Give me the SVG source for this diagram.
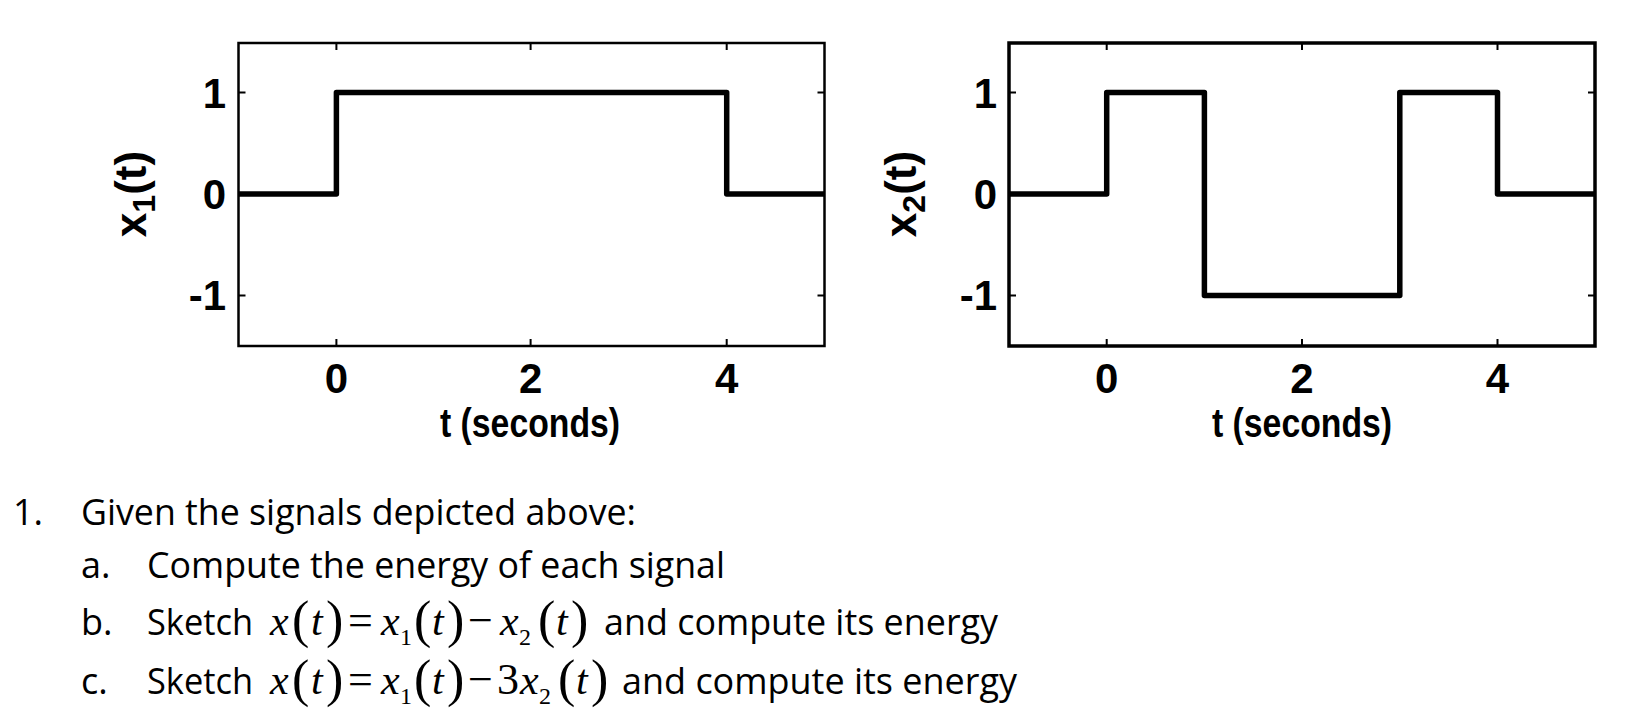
<svg xmlns="http://www.w3.org/2000/svg" width="1643" height="724" viewBox="0 0 1643 724">
<style>
.box{fill:none;stroke:#000;stroke-width:2.5}
.tick{stroke:#000;stroke-width:2}
.sig{fill:none;stroke:#000;stroke-width:5.5;stroke-linejoin:round}
.tl{font-family:"Liberation Sans",Arial,sans-serif;font-size:42px;font-weight:bold;fill:#000}
.ax{font-family:"Liberation Sans",Arial,sans-serif;font-size:40px;font-weight:bold;fill:#000}
.yl{font-family:"Liberation Sans",Arial,sans-serif;font-size:44px;font-weight:bold;fill:#000}
.tx{font-family:"Open Sans","Liberation Sans",sans-serif;font-size:36px;fill:#000}
.m{font-family:"Liberation Serif","Times New Roman",serif;font-size:42px;font-style:italic;fill:#000}
.mn{font-family:"Liberation Serif","Times New Roman",serif;font-size:44px;fill:#000}
.p{font-family:"Liberation Serif","Times New Roman",serif;font-size:52px;fill:#000}
.s{font-family:"Liberation Serif","Times New Roman",serif;font-size:24px;fill:#000}
</style>
<g id="plot1">
<rect class="box" x="238.5" y="43" width="586" height="303"/>
<path class="tick" d="M336.4 43v7M530.6 43v7M726.7 43v7M336.4 346v-7M530.6 346v-7M726.7 346v-7M238.5 92.5h7M238.5 194h7M238.5 295.5h7M824.5 92.5h-7M824.5 194h-7M824.5 295.5h-7"/>
<path class="sig" d="M238.5 194H336.4V92.5H726.7V194H824.5"/>
<g class="tl" text-anchor="end"><text x="226" y="108">1</text><text x="226" y="209">0</text><text x="226" y="310">-1</text></g>
<g class="tl" text-anchor="middle"><text x="336.4" y="393">0</text><text x="530.6" y="393">2</text><text x="726.7" y="393">4</text></g>
<text class="ax" x="530" y="437" text-anchor="middle" textLength="180" lengthAdjust="spacingAndGlyphs">t (seconds)</text>
<text class="yl" transform="translate(146,194) rotate(-90)" text-anchor="middle">x<tspan dy="9" font-size="32">1</tspan><tspan dy="-9">(t)</tspan></text>
</g>
<g id="plot2">
<rect class="box" x="1009" y="43" width="586" height="303" style="stroke-width:3.5"/>
<path class="tick" d="M1106.7 43v7M1302 43v7M1497.5 43v7M1106.7 346v-7M1302 346v-7M1497.5 346v-7M1009 92.5h7M1009 194h7M1009 295.5h7M1595 92.5h-7M1595 194h-7M1595 295.5h-7"/>
<path class="sig" d="M1009 194H1106.7V92.5H1204.4V295.5H1399.8V92.5H1497.5V194H1595"/>
<g class="tl" text-anchor="end"><text x="997" y="108">1</text><text x="997" y="209">0</text><text x="997" y="310">-1</text></g>
<g class="tl" text-anchor="middle"><text x="1106.7" y="393">0</text><text x="1302" y="393">2</text><text x="1497.5" y="393">4</text></g>
<text class="ax" x="1302" y="437" text-anchor="middle" textLength="180" lengthAdjust="spacingAndGlyphs">t (seconds)</text>
<text class="yl" transform="translate(916,194) rotate(-90)" text-anchor="middle">x<tspan dy="9" font-size="32">2</tspan><tspan dy="-9">(t)</tspan></text>
</g>
<g id="question">
<text class="tx" x="13" y="525">1.</text>
<text class="tx" x="81" y="525" textLength="555" lengthAdjust="spacingAndGlyphs">Given the signals depicted above:</text>
<text class="tx" x="81" y="578">a.</text>
<text class="tx" x="147" y="578" textLength="578" lengthAdjust="spacingAndGlyphs">Compute the energy of each signal</text>
<text class="tx" x="81" y="635">b.</text>
<text class="tx" x="147" y="635" textLength="106" lengthAdjust="spacingAndGlyphs">Sketch</text>
<text class="tx" x="604" y="635" textLength="394" lengthAdjust="spacingAndGlyphs">and compute its energy</text>
<text class="tx" x="81" y="694">c.</text>
<text class="tx" x="147" y="694" textLength="106" lengthAdjust="spacingAndGlyphs">Sketch</text>
<text class="tx" x="622" y="694" textLength="395" lengthAdjust="spacingAndGlyphs">and compute its energy</text>
<g id="eq-b">
<text class="m" x="270" y="635">x</text><text class="p" x="292" y="637">(</text><text class="m" x="311" y="635">t</text><text class="p" x="326" y="637">)</text>
<text class="mn" x="348" y="635">=</text>
<text class="m" x="381" y="635">x</text><text class="s" x="400" y="645">1</text><text class="p" x="414" y="637">(</text><text class="m" x="432" y="635">t</text><text class="p" x="447" y="637">)</text>
<text class="mn" x="468" y="635">−</text>
<text class="m" x="500" y="635">x</text><text class="s" x="519" y="645">2</text><text class="p" x="538" y="637">(</text><text class="m" x="556" y="635">t</text><text class="p" x="571" y="637">)</text>
</g>
<g id="eq-c">
<text class="m" x="270" y="694">x</text><text class="p" x="292" y="696">(</text><text class="m" x="311" y="694">t</text><text class="p" x="326" y="696">)</text>
<text class="mn" x="348" y="694">=</text>
<text class="m" x="381" y="694">x</text><text class="s" x="400" y="704">1</text><text class="p" x="414" y="696">(</text><text class="m" x="432" y="694">t</text><text class="p" x="447" y="696">)</text>
<text class="mn" x="468" y="694">−</text>
<text class="mn" x="497" y="694" font-size="42">3</text>
<text class="m" x="520" y="694">x</text><text class="s" x="539" y="704">2</text><text class="p" x="558" y="696">(</text><text class="m" x="576" y="694">t</text><text class="p" x="591" y="696">)</text>
</g>
</g>
</svg>
